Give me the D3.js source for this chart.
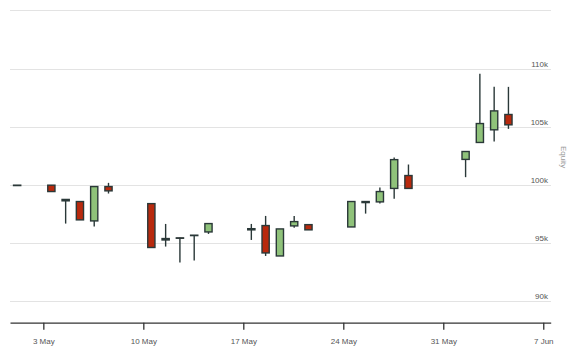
<!DOCTYPE html>
<html><head><meta charset="utf-8">
<script src="https://cdn.jsdelivr.net/npm/d3@7"></script>
<style>
body{margin:0;background:#fff;}
text{font-family:"Liberation Sans",Arial,sans-serif;}
</style></head>
<body><svg id="c" width="580" height="360"></svg>
<script>
const dates = ["2021-05-01T04:00","2021-05-03T13:30","2021-05-04T13:30","2021-05-05T13:30","2021-05-06T13:30","2021-05-07T13:30",
  "2021-05-10T13:30","2021-05-11T13:30","2021-05-12T13:30","2021-05-13T13:30","2021-05-14T13:30",
  "2021-05-17T13:30","2021-05-18T13:30","2021-05-19T13:30","2021-05-20T13:30","2021-05-21T13:30",
  "2021-05-24T13:30","2021-05-25T13:30","2021-05-26T13:30","2021-05-27T13:30","2021-05-28T13:30",
  "2021-06-01T13:30","2021-06-02T13:30","2021-06-03T13:30","2021-06-04T13:30"];
const open  = [100000, 100000, 98650, 98590, 96920, 99880, 98410, 95400, 95460, 95690, 95970, 96150, 96520, 93900, 96490, 96600, 96400, 98590, 98560, 99720, 100830, 102220, 103680, 104770, 106090];
const close = [100000,  99450, 98770, 97010, 99880, 99510, 94630, 95280, 95460, 95690, 96690, 96250, 94160, 96230, 96860, 96150, 98590, 98500, 99450, 102200, 99720, 102900, 105310, 106400, 105200];
const high  = [100000, 100000, 98770, 98590, 99880, 100200, 98410, 96660, 95460, 95690, 96690, 96660, 97350, 96230, 97350, 96600, 98590, 98590, 99800, 102380, 101780, 102900, 109600, 108470, 108470];
const low   = [100000,  99450, 96690, 97010, 96430, 99280, 94630, 94710, 93330, 93500, 95800, 95280, 93900, 93900, 96340, 96150, 96400, 97550, 98410, 98820, 99720, 100690, 103680, 103760, 104850];
const xTicks = ["2021-05-03","2021-05-10","2021-05-17","2021-05-24","2021-05-31","2021-06-07"];
const yTicks = [90000, 95000, 100000, 105000, 110000];
const yTitle = "Equity";

const parse = s => new Date(s + (s.length === 10 ? "T00:00Z" : "Z"));
const svg = d3.select("#c");
const x = d3.scaleUtc().domain([parse("2021-04-30T16:00"), parse("2021-06-07T12:30")]).range([10, 550.7]);
const y = d3.scaleLinear().domain([88150, 115050]).range([322.7, 10.5]);

// grid
const g = svg.append("g");
g.selectAll("line.grid").data(yTicks).join("line")
  .attr("x1", 10).attr("x2", 551).attr("y1", d => Math.round(y(d)) + 0.5).attr("y2", d => Math.round(y(d)) + 0.5)
  .attr("stroke", "#e3e3e3").attr("stroke-width", 1);
g.append("line").attr("x1", 10).attr("x2", 551).attr("y1", 10.5).attr("y2", 10.5)
  .attr("stroke", "#e3e3e3").attr("stroke-width", 1);
g.selectAll("text.yl").data(yTicks).join("text")
  .attr("x", 548).attr("y", d => y(d) - 2.5).attr("text-anchor", "end")
  .attr("font-size", 8).attr("fill", "#555")
  .text(d => d3.format("d")(d / 1000) + "k");
svg.append("text").attr("transform", "translate(561,157) rotate(90)")
  .attr("text-anchor", "middle").attr("font-size", 8).attr("fill", "#999").text(yTitle);

// x axis
const xa = svg.append("g").attr("transform", "translate(0,322.7)")
  .call(d3.axisBottom(x).tickValues(xTicks.map(parse)).tickFormat(d3.utcFormat("%-d %b")).tickSize(7).tickPadding(9).tickSizeOuter(0));
xa.select(".domain").attr("stroke", "#333").attr("stroke-width", 1.3);
xa.selectAll(".tick line").attr("stroke", "#333").attr("stroke-width", 1.3);
xa.selectAll(".tick text").attr("font-size", 8).attr("fill", "#555").attr("font-family", "Liberation Sans, Arial, sans-serif");

// candles
const data = dates.map((d, i) => ({d: parse(d), o: open[i], c: close[i], h: high[i], l: low[i]}));
const cg = svg.append("g");
const stroke = "#2a3838";
cg.selectAll("line.wick").data(data.filter(d => d.h > d.l)).join("line")
  .attr("x1", d => x(d.d)).attr("x2", d => x(d.d))
  .attr("y1", d => y(d.h)).attr("y2", d => y(d.l))
  .attr("stroke", stroke).attr("stroke-width", 1.4);
cg.selectAll("rect.body").data(data).join("rect")
  .attr("x", d => x(d.d) - 3.6).attr("width", 7.2)
  .attr("y", d => y(Math.max(d.o, d.c))).attr("height", d => Math.max(0.4, Math.abs(y(d.o) - y(d.c))))
  .attr("fill", d => d.c > d.o ? "#8fc27a" : "#b8290d")
  .attr("stroke", stroke).attr("stroke-width", 1.4);
</script></body></html>
